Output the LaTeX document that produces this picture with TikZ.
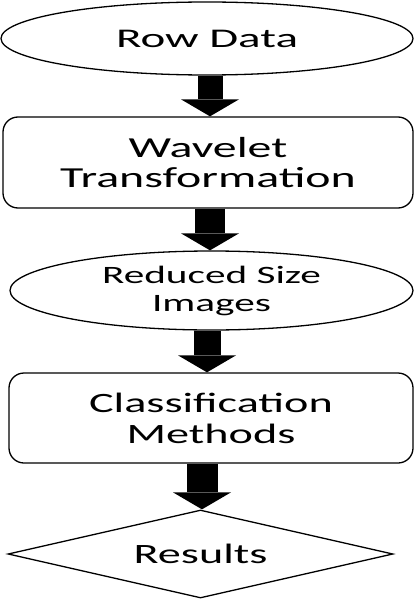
\documentclass[tikz,border=0pt]{standalone}
\usepackage{fontspec}
\setmainfont{Carlito}
\usepackage{graphicx}
\usetikzlibrary{shapes.geometric,arrows.meta}

\newcommand{\wide}[2][1.65]{\scalebox{#1}[1]{#2}}

\begin{document}
\begin{tikzpicture}[x=1pt, y=-1pt]
  \tikzset{
    ebox/.style={draw, line width=1.3pt, ellipse, inner sep=0pt, align=center},
    rbox/.style={draw, line width=1.3pt, rounded corners=15pt, inner sep=0pt, align=center},
    dbox/.style={draw, line width=1.3pt, diamond, aspect=4.4, inner sep=0pt},
    flowarrow/.style={line width=#1, -{Triangle[width=58pt, length=17pt, line width=0pt]}},
    flowarrow/.default=27pt,
  }
  \useasboundingbox (0, 0) rectangle (415, 599);
  %
  %%% STEPS %%%
  \node[ebox, minimum width=412pt, minimum height=73pt, font=\fontsize{27}{30}\selectfont]
    (rowdata) at (207, 38.5) {\wide[1.74]{Row Data}};
  \node[rbox, minimum width=410pt, minimum height=91pt, font=\fontsize{29}{30}\selectfont]
    (wavelet) at (208, 162.5) {\wide{Wavelet}\\\wide{Transformation}};
  \node[ebox, minimum width=403pt, minimum height=79pt, font=\fontsize{25}{28}\selectfont]
    (reduced) at (211.5, 290.5) {\wide{Reduced Size}\\\wide{Images}};
  \node[rbox, minimum width=404pt, minimum height=90pt, font=\fontsize{28}{31}\selectfont]
    (methods) at (211, 418) {\wide{Classification}\\\wide{Methods}};
  \node[dbox, minimum width=385pt, minimum height=88pt, font=\fontsize{28}{30}\selectfont]
    (results) at (200.5, 554) {\wide{Results}};
  %
  %%% ARROWS %%%
  \draw[flowarrow=25pt] ([xshift=3pt]rowdata.south) -- ([xshift=3pt]rowdata.south |- wavelet.north);
  \draw[flowarrow=30pt] ([xshift=2pt]wavelet.south) -- ([xshift=2pt]wavelet.south |- reduced.north);
  \draw[flowarrow=27pt] ([xshift=-4.5pt]reduced.south) -- ([xshift=-4.5pt]reduced.south |- methods.north);
  \draw[flowarrow=31pt] ([xshift=1.5pt]results.north |- methods.south) -- ([xshift=1.5pt]results.north);
\end{tikzpicture}
\end{document}
